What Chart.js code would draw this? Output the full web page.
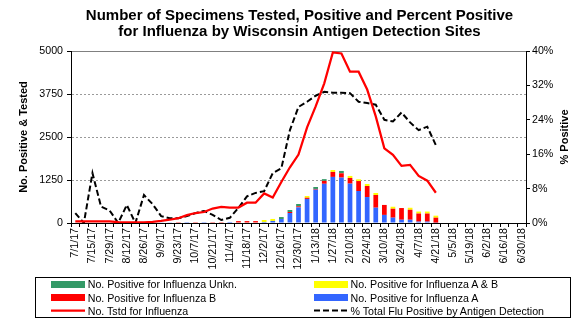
<!DOCTYPE html>
<html>
<head>
<meta charset="utf-8">
<script src="https://cdn.jsdelivr.net/npm/chart.js@4.4.0/dist/chart.umd.min.js"></script>
<style>
  body { margin: 0; background: #fff; }
  #wrap { position: relative; width: 587px; height: 321px; font-family: Arial, "Liberation Sans", sans-serif; }
  #legend { position: absolute; left: 35px; top: 277px; width: 536px; height: 41px; border: 1px solid #000; box-sizing: border-box; }
  .item { position: absolute; display: flex; align-items: center; height: 12px; font-size: 10.67px; white-space: nowrap; color: #000; }
  .sym { width: 34px; height: 7px; margin-right: 3px; flex: none; }
</style>
</head>
<body>
<div id="wrap">
  <canvas id="fluChart" width="587" height="321"></canvas>
  <div id="legend"></div>
</div>
<script>
// weekly categories, 7/1/17 - 6/30/18
const weeks = ['7/1/17', '7/8/17', '7/15/17', '7/22/17', '7/29/17', '8/5/17', '8/12/17', '8/19/17', '8/26/17',
    '9/2/17', '9/9/17', '9/16/17', '9/23/17', '9/30/17', '10/7/17', '10/14/17', '10/21/17', '10/28/17',
    '11/4/17', '11/11/17', '11/18/17', '11/25/17', '12/2/17', '12/9/17', '12/16/17', '12/23/17', '12/30/17',
    '1/6/18', '1/13/18', '1/20/18', '1/27/18', '2/3/18', '2/10/18', '2/17/18', '2/24/18',
    '3/3/18', '3/10/18', '3/17/18', '3/24/18', '3/31/18', '4/7/18', '4/14/18', '4/21/18', '4/28/18',
    '5/5/18', '5/12/18', '5/19/18', '5/26/18', '6/2/18', '6/9/18', '6/16/18', '6/23/18', '6/30/18'];

// No. positive, by type (stacked bars)
const fluA = [0, 0, 0, 0, 0, 0, 0, 0, 0, 0, 20, 20, 0, 25, 0, 25, 0, 0, 30, 0, 0, 0, 30, 60, 115, 290, 455,
    700, 970, 1140, 1340, 1320, 1145, 930, 755, 445, 235, 155, 95, 95, 40, 40, 10,
    0, 0, 0, 0, 0, 0, 0, 0, 0, 0];
const fluB = [0, 0, 0, 0, 0, 0, 0, 0, 0, 0, 0, 0, 25, 0, 25, 0, 25, 25, 0, 55, 55, 55, 0, 0, 0, 30, 30,
    35, 20, 85, 145, 125, 165, 290, 320, 370, 290, 260, 340, 290, 235, 235, 145,
    0, 0, 0, 0, 0, 0, 0, 0, 0, 0];
const fluAB = [0, 0, 0, 0, 0, 0, 0, 0, 0, 0, 0, 0, 0, 0, 0, 0, 0, 0, 0, 0, 0, 0, 58, 58, 0, 0, 0,
    50, 0, 0, 55, 0, 58, 50, 58, 58, 0, 58, 0, 58, 58, 58, 58,
    0, 0, 0, 0, 0, 0, 0, 0, 0, 0];
const fluUnk = [0, 0, 0, 0, 0, 0, 0, 0, 0, 0, 0, 0, 0, 0, 0, 0, 0, 0, 0, 0, 0, 0, 0, 0, 58, 58, 68,
    0, 57, 50, 0, 68, 0, 0, 0, 0, 0, 0, 0, 0, 0, 0, 0,
    0, 0, 0, 0, 0, 0, 0, 0, 0, 0];

// No. tested (left axis)
const tested = [45, 45, 45, 45, 45, 25, 20, 15, 20, 35, 60, 95, 140, 230, 290, 320, 420, 470, 445, 450, 590,
    590, 860, 740, 1190, 1620, 1990, 2780, 3390, 4060, 4960, 4930, 4400, 4400, 3880, 3100, 2170,
    1980, 1660, 1690, 1370, 1230, 880,
    null, null, null, null, null, null, null, null, null, null];

// % total flu positive (right axis)
const pctPositive = [2.3, 0, 11.6, 3.8, 2.9, 0, 4.2, 0, 6.5, 4.4, 1.6, 1.1, 1.1, 1.6, 2.3, 2.8, 1.9, 0.7,
    1.2, 3.5, 6.2, 7.0, 7.4, 11.6, 12.7, 21.6, 27.0, 28.2, 29.6, 30.5, 30.3, 30.3, 30.2, 28.2, 27.9,
    27.5, 24.0, 23.6, 25.7, 23.4, 21.6, 22.4, 18.1,
    null, null, null, null, null, null, null, null, null, null];

const leftTicks = [0, 1250, 2500, 3750, 5000];
const rightTicks = [0, 8, 16, 24, 32, 40];

Chart.defaults.font.family = 'Arial, "Liberation Sans", sans-serif';
Chart.defaults.font.size = 10.67;
Chart.defaults.color = '#000';

// right axis title reads bottom-to-top in the original
const rightTitle = {
    id: 'rightTitle',
    afterDraw(chart) {
        const { ctx, chartArea } = chart;
        ctx.save();
        ctx.translate(chartArea.right + 38.5, (chartArea.top + chartArea.bottom) / 2);
        ctx.rotate(-Math.PI / 2);
        ctx.font = 'bold 11px Arial, "Liberation Sans", sans-serif';
        ctx.fillStyle = '#000';
        ctx.textAlign = 'center';
        ctx.textBaseline = 'middle';
        ctx.fillText('% Positive', 0, 0);
        ctx.restore();
    }
};

const ctx = document.getElementById('fluChart').getContext('2d');
const fluChart = new Chart(ctx, {
    type: 'bar',
    data: {
        labels: weeks,
        datasets: [
            {
                type: 'line', label: 'No. Tstd for Influenza', data: tested, yAxisID: 'y', stack: 'tested',
                borderColor: '#FF0000', backgroundColor: '#FF0000', borderWidth: 2.25,
                pointRadius: 0, tension: 0, fill: false
            },
            {
                type: 'line', label: '% Total Flu Positive by Antigen Detection', data: pctPositive, yAxisID: 'y1',
                borderColor: '#000', backgroundColor: '#000', borderWidth: 2, borderDash: [6, 3],
                pointRadius: 0, tension: 0, fill: false
            },
            { label: 'No. Positive for Influenza A', data: fluA, backgroundColor: '#3366FF', stack: 'pos', yAxisID: 'y' },
            { label: 'No. Positive for Influenza B', data: fluB, backgroundColor: '#FF0000', stack: 'pos', yAxisID: 'y' },
            { label: 'No. Positive for Influenza A & B', data: fluAB, backgroundColor: '#FFFF00', stack: 'pos', yAxisID: 'y' },
            { label: 'No. Positive for Influenza Unkn.', data: fluUnk, backgroundColor: '#339966', stack: 'pos', yAxisID: 'y' }
        ]
    },
    options: {
        responsive: false,
        animation: false,
        devicePixelRatio: 1,
        layout: { padding: { left: 12, right: 0, top: 0, bottom: 45 } },
        datasets: { bar: { barPercentage: 0.55, categoryPercentage: 1 } },
        plugins: {
            legend: { display: false },
            tooltip: { enabled: false },
            title: {
                display: true,
                text: ['Number of Specimens Tested, Positive and Percent Positive',
                       'for Influenza by Wisconsin Antigen Detection Sites'],
                font: { size: 15, weight: 'bold', lineHeight: 1.067 },
                color: '#000',
                padding: { top: 7.4, bottom: 11.6 }
            }
        },
        scales: {
            x: {
                stacked: true,
                offset: true,
                grid: { display: true, drawOnChartArea: false, drawTicks: true, tickLength: 4, color: '#000', tickColor: '#000' },
                border: { display: true, color: '#000', width: 1 },
                ticks: {
                    autoSkip: false, maxRotation: 90, minRotation: 90, padding: 1,
                    callback: function(v, i) { return i % 2 === 0 ? weeks[i] : ''; }
                },
                afterFit: function(s) { s.height = 53; }
            },
            y: {
                stacked: true,
                position: 'left',
                min: 0, max: 5000,
                afterBuildTicks: function(s) { s.ticks = leftTicks.map(v => ({ value: v })); },
                grid: {
                    color: c => (c.tick && c.tick.value === 0) ? 'rgba(0,0,0,0)' : (c.tick && c.tick.value === 5000 ? '#808080' : '#9a9a9a'),
                    tickColor: '#000', tickLength: 4
                },
                border: { color: '#000', dash: c => (c.tick && c.tick.value === 5000) ? [] : [2, 2] },
                ticks: { padding: 4, callback: v => String(v) },
                title: {
                    display: true, text: 'No. Positive & Tested',
                    font: { size: 11, weight: 'bold' }, padding: { top: 5.4, bottom: 0 }
                },
                afterFit: function(s) { s.width = 59; }
            },
            y1: {
                position: 'right',
                min: 0, max: 40,
                afterBuildTicks: function(s) { s.ticks = rightTicks.map(v => ({ value: v })); },
                grid: { drawOnChartArea: false, color: '#000', tickLength: 4 },
                border: { color: '#000' },
                ticks: { padding: 2, callback: v => v + '%' },
                afterFit: function(s) { s.width = 61; }
            }
        }
    },
    plugins: [rightTitle]
});

// HTML legend, two columns like the original
const legendOrder = [5, 4, 3, 2, 0, 1];
const colX = [14.7, 277.5];
const rowY = [0.2, 13.6, 26.8];
const legendEl = document.getElementById('legend');
legendOrder.forEach(function(dsIndex, k) {
    const ds = fluChart.data.datasets[dsIndex];
    const item = document.createElement('div');
    item.className = 'item';
    item.style.left = colX[k % 2] + 'px';
    item.style.top = rowY[Math.floor(k / 2)] + 'px';
    let sym;
    if (ds.type === 'line') {
        sym = document.createElementNS('http://www.w3.org/2000/svg', 'svg');
        sym.setAttribute('class', 'sym');
        sym.setAttribute('width', '34');
        sym.setAttribute('height', '7');
        const ln = document.createElementNS('http://www.w3.org/2000/svg', 'line');
        ln.setAttribute('x1', '0'); ln.setAttribute('x2', '34');
        ln.setAttribute('y1', '3.5'); ln.setAttribute('y2', '3.5');
        ln.setAttribute('stroke', ds.borderColor);
        ln.setAttribute('stroke-width', ds.borderWidth);
        if (ds.borderDash) ln.setAttribute('stroke-dasharray', ds.borderDash.join(','));
        sym.appendChild(ln);
    } else {
        sym = document.createElement('div');
        sym.className = 'sym';
        sym.style.background = ds.backgroundColor;
    }
    const txt = document.createElement('span');
    txt.textContent = ds.label;
    item.appendChild(sym);
    item.appendChild(txt);
    legendEl.appendChild(item);
});
</script>
</body>
</html>
